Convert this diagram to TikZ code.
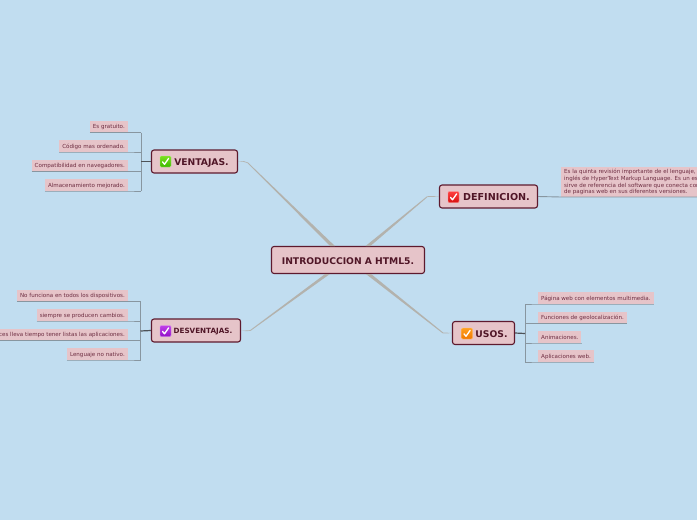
\documentclass[tikz,border=0pt]{standalone}
\usepackage{fontspec}
\setmainfont{DejaVu Sans}
\definecolor{bgc}{HTML}{C1DDF0}
\definecolor{boxc}{HTML}{E6C4C9}
\definecolor{edgec}{HTML}{5E1A2E}
\definecolor{leaft}{HTML}{6E2E42}
\definecolor{linec}{HTML}{8896A0}
\definecolor{stemc}{HTML}{4E5257}
\definecolor{conn}{HTML}{B3B2AD}
\definecolor{gtop}{HTML}{7BE020}\definecolor{gbot}{HTML}{3CB800}
\definecolor{ptop}{HTML}{C040E8}\definecolor{pbot}{HTML}{9010C8}
\definecolor{rtop}{HTML}{FF4040}\definecolor{rbot}{HTML}{D81010}
\definecolor{otop}{HTML}{FFA020}\definecolor{obot}{HTML}{F07800}
\tikzset{
  box/.style={draw=edgec,fill=boxc,line width=1.1pt,rounded corners=2.5pt,inner sep=0pt,text=edgec!85!black,text height=8.5pt,text depth=0pt,font=\bfseries\fontsize{9.2}{11}\selectfont},
  leaf/.style={fill=boxc,inner xsep=3pt,inner ysep=0pt,minimum height=11.5pt,text=leaft,text height=5.2pt,text depth=0.6pt,font=\fontsize{5.55}{6.6}\selectfont},
  leafblock/.style={fill=boxc,inner xsep=3pt,inner ysep=2pt,text=leaft,align=left,font=\fontsize{5.55}{6.6}\selectfont},
  leafline/.style={draw=linec,line width=.9pt},
  stem/.style={draw=stemc,line width=1.2pt},
  taper/.style={fill=conn,draw=none},
  icon/.style={rounded corners=1pt,minimum size=11pt,inner sep=0pt,line width=.4pt},
  tick/.style={draw=white,line width=1.3pt,line cap=round,line join=round},
}
\newcommand{\tickmark}[1]{\draw[tick] ([shift={(-3pt,-.3pt)}]#1.center) -- ([shift={(-1pt,-2.8pt)}]#1.center) -- ([shift={(3.2pt,3.2pt)}]#1.center);}
\begin{document}
\begin{tikzpicture}[x=1pt,y=-1pt]
\useasboundingbox (0,0) rectangle (697,520);
\clip (0,0) rectangle (697,520);
\fill[bgc] (0,0) rectangle (697,520);
% main nodes
\node[box,minimum width=153pt,minimum height=27pt] (root) at (348,260) {INTRODUCCION A HTML5.};
\node[box,minimum width=86pt,minimum height=23pt] (vent) at (194.5,161.5) {\hspace*{14pt}VENTAJAS.};
\node[box,minimum width=89pt,minimum height=23pt,text height=6.5pt,font=\bfseries\fontsize{7.2}{8.6}\selectfont] (desv) at (196,330.5) {\hspace*{14pt}DESVENTAJAS.};
\node[box,minimum width=98pt,minimum height=23pt] (defi) at (488.5,196.5) {\hspace*{16pt}\fontsize{9.6}{11}\selectfont DEFINICION.};
\node[box,minimum width=62pt,minimum height=23pt] (usos) at (483.5,333) {\hspace*{16pt}USOS.};
% tapered connectors
\coordinate (nwa) at (332.5,246);
\coordinate (nea) at (368,246);
\coordinate (swa) at (327.5,274);
\coordinate (sea) at (368.5,274);
\fill[taper] ([xshift=-2.4pt]nwa) -- (247.5,163) .. controls (244,161.5) and (242,161.4) .. (vent.east) .. controls (242,160.7) and (245,160.7) .. (248,162.5) -- ([xshift=2.4pt]nwa) -- cycle;
\fill[taper] ([xshift=-2.4pt]nea) -- (427,196.3) .. controls (431,196) and (435,196.1) .. (defi.west) .. controls (435,196.9) and (431,196.7) .. (427.5,197) -- ([xshift=2.4pt]nea) -- cycle;
\fill[taper] ([xshift=-2.4pt]swa) -- (250,330.2) .. controls (247,330.6) and (244,330.5) .. (desv.east) .. controls (244,331.2) and (247,331.3) .. (250.5,330.9) -- ([xshift=2.4pt]swa) -- cycle;
\fill[taper] ([xshift=-2.6pt]sea) -- (442.8,333.4) .. controls (446,333.4) and (449,333.4) .. (usos.west) .. controls (449,332.7) and (446,332.7) .. (443.4,332.7) -- ([xshift=2.6pt]sea) -- cycle;
% icons
\node[icon,draw=gtop!60!white,top color=gtop,bottom color=gbot] (i1) at (165.5,161.5) {}; \tickmark{i1}
\node[icon,draw=ptop!60!white,top color=ptop,bottom color=pbot] (i2) at (165.5,331) {}; \tickmark{i2}
\node[icon,draw=rtop!60!white,top color=rtop,bottom color=rbot] (i3) at (453.5,197) {}; \tickmark{i3}
\node[icon,draw=otop!60!white,top color=otop,bottom color=obot] (i4) at (467,333.5) {}; \tickmark{i4}
% ventajas
\coordinate (tv) at (141,161.5);
\node[leaf,anchor=south east] (v1) at (128,132.5) {Es gratuito.};
\node[leaf,anchor=south east] (v2) at (128,152) {Código mas ordenado.};
\node[leaf,anchor=south east] (v3) at (128,171.5) {Compatibilidad en navegadores.};
\node[leaf,anchor=south east] (v4) at (128,191) {Almacenamiento mejorado.};
\foreach \n in {v1,v2,v3,v4} \draw[leafline] (\n.south west) -- (\n.south east) -- (\n.south east -| tv);
\draw[leafline] (v1.south -| tv) -- (v4.south -| tv);
\draw[stem] (vent.west) -- (tv);
% desventajas
\coordinate (td) at (140.5,331);
\node[leaf,anchor=south east] (d1) at (128,301.5) {No funciona en todos los dispositivos.};
\node[leaf,anchor=south east] (d2) at (128,321) {siempre se producen cambios.};
\node[leaf,anchor=south east] (d3) at (128,340.5) {A veces lleva tiempo tener listas las aplicaciones.};
\node[leaf,anchor=south east] (d4) at (128,360) {Lenguaje no nativo.};
\foreach \n in {d1,d2,d3,d4} \draw[leafline] (\n.south west) -- (\n.south east) -- (\n.south east -| td);
\draw[leafline] (d1.south -| td) -- (d4.south -| td);
\draw[stem] (desv.west) -- (td);
% usos
\coordinate (tu) at (525,333.5);
\node[leaf,anchor=south west] (u1) at (538,304) {Página web con elementos multimedia.};
\node[leaf,anchor=south west] (u2) at (538,323.5) {Funciones de geolocalización.};
\node[leaf,anchor=south west] (u3) at (538,343) {Animaciones.};
\node[leaf,anchor=south west] (u4) at (538,362) {Aplicaciones web.};
\foreach \n in {u1,u2,u3,u4} \draw[leafline] (\n.south east) -- (\n.south west) -- (\n.south west -| tu);
\draw[leafline] (u1.south -| tu) -- (u4.south -| tu);
\draw[stem] (usos.east) -- (tu);
% definicion
\node[leafblock,anchor=south west] (f1) at (561,197) {Es la quinta revisión importante de el lenguaje, HTML, siglas en\\inglés de HyperText Markup Language. Es un estándar que\\sirve de referencia del software que conecta con la elaboración\\de paginas web en sus diferentes versiones.};
\draw[leafline] (defi.east) -- (f1.south west) -- (f1.south east);
\end{tikzpicture}
\end{document}
